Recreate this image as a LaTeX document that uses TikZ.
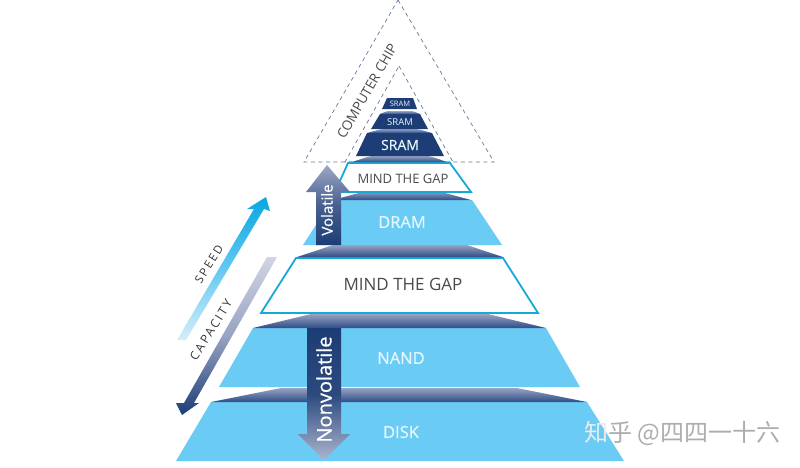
\documentclass[tikz,border=0pt]{standalone}
\usepackage{fontspec}
\setmainfont{Open Sans}
\newfontfamily\cjkwm{Noto Sans CJK SC}
\newfontfamily\heavyfont[FakeBold=0.6]{Open Sans}
\definecolor{tierblue}{HTML}{6ACBF5}
\definecolor{navy}{HTML}{1C3D75}
\definecolor{bandtop}{HTML}{98A2C2}
\definecolor{bandbot}{HTML}{2F4D86}
\definecolor{gapcyan}{HTML}{14A9D6}
\definecolor{gaptext}{HTML}{4A4A4A}
\definecolor{tiertext}{HTML}{E6F6FD}
\definecolor{dashc}{HTML}{66779A}
\definecolor{speedtop}{HTML}{08A6E0}
\definecolor{speedmid}{HTML}{62C9F2}
\definecolor{speedbot}{HTML}{D6EDF8}
\tikzset{
  tier/.style={fill=tierblue},
  gaptier/.style={draw=gapcyan,line width=1.8pt,fill=white,line join=miter},
  sramtier/.style={fill=navy},
  band/.style={top color=bandtop,bottom color=bandbot},
  chipdash/.style={draw=dashc,line width=0.7pt,dash pattern=on 4pt off 3.5pt},
  tierlabel/.style={text=tiertext,inner sep=0pt},
  gaplabel/.style={text=gaptext,inner sep=0pt},
  sidelabel/.style={text=gaptext!70!black,inner sep=0pt,rotate=58},
  arrowlabel/.style={text=white,inner sep=0pt,rotate=90}
}
% domed band
\newcommand{\bandshape}[6]{% xl xr yb xtl xtr yt
  \shade[band] (#1,#3) .. controls ({#1+0.5*(#4-#1)},{#3-0.55*(#3-#6)}) and ({#1+0.8*(#4-#1)},{#6+0.1*(#3-#6)}) .. (#4,#6)
    -- (#5,#6) .. controls ({#2+0.8*(#5-#2)},{#6+0.1*(#3-#6)}) and ({#2+0.5*(#5-#2)},{#3-0.55*(#3-#6)}) .. (#2,#3) -- cycle;}
% straight-sided band
\newcommand{\wedgeshape}[6]{%
  \shade[band] (#1,#3) -- (#4,#6) -- (#5,#6) -- (#2,#3) -- cycle;}
\begin{document}
\begin{tikzpicture}[x=1pt,y=-1pt]
\useasboundingbox (0,0) rectangle (800,467);
% chip triangles
\draw[chipdash] (398,0) -- (494,162) -- (304,162) -- cycle;
\draw[chipdash] (399,66) -- (453,162) -- (345,162) -- cycle;
% tiers
\fill[tier] (176,461) -- (624,461) -- (587,402) -- (211,402) -- cycle;
\wedgeshape{211}{587}{402}{281}{517}{388}
\fill[tier] (219,387) -- (580,387) -- (546,328) -- (253,328) -- cycle;
\wedgeshape{253}{546}{328}{311}{488}{314}
\draw[gaptier] (261,313) -- (538,313) -- (503,258) -- (296,258) -- cycle;
\wedgeshape{297}{503}{257}{333}{467}{245}
\fill[tier] (303,245) -- (502,245) -- (472,200) -- (332,200) -- cycle;
\wedgeshape{333}{471}{200}{366}{438}{191}
\draw[gaptier] (335,192) -- (471,192) -- (450,163) -- (348,163) -- cycle;
\bandshape{352}{447}{162}{372}{428}{156}
\fill[sramtier] (356,156) -- (444,156) -- (432,133) -- (367,133) -- cycle;
\bandshape{367}{432}{133}{383}{416}{129}
\fill[sramtier] (371,129) -- (428,129) -- (420,114) -- (380,114) -- cycle;
\bandshape{380}{420}{114}{388}{412}{111}
\fill[sramtier] (382,109) -- (417,109) -- (413,98) -- (387,98) -- cycle;
% vertical arrows
\shade[top color=bandtop!95!white,bottom color=navy,middle color=navy!65!bandtop] (316,245) -- (341,245) -- (341,192) -- (350,192) -- (327,165) -- (306,192) -- (316,192) -- cycle;
\shade[top color=navy,bottom color=bandtop!80!white,middle color=navy!88!bandtop] (307,328) -- (341,328) -- (341,434) -- (350,434) -- (324,460) -- (298,434) -- (307,434) -- cycle;
% diagonal arrows
\shade[top color=speedtop,bottom color=speedbot,middle color=speedmid] (177,340) -- (186,340) -- (264,209) -- (270,211) -- (266,197) -- (247,209) -- (254,209) -- cycle;
\shade[top color=bandtop!45!white,bottom color=navy,middle color=bandtop] (267,257) -- (277,257) -- (194,403) -- (199,403) -- (182,415) -- (176,403) -- (184,403) -- cycle;
% labels
\node[tierlabel,font=\heavyfont\fontsize{16.5}{18}\selectfont] (disk) at (401,432) {DISK};
\node[tierlabel,font=\heavyfont\fontsize{16.5}{18}\selectfont] (nand) at (401,358) {NAND};
\node[gaplabel,font=\fontsize{17}{20}\selectfont] (gapa) at (403,284) {MIND THE GAP};
\node[tierlabel,font=\heavyfont\fontsize{16.5}{18}\selectfont] (dram) at (402,222) {DRAM};
\node[gaplabel,font=\fontsize{13}{15}\selectfont] (gapb) at (403,179) {MIND THE GAP};
\node[tierlabel,font=\heavyfont\fontsize{14}{16}\selectfont] (srama) at (400,145) {SRAM};
\node[tierlabel,font=\fontsize{9.5}{11}\selectfont] (sramb) at (400,122) {SRAM};
\node[tierlabel,font=\fontsize{7.5}{9}\selectfont] (sramc) at (400,104) {SRAM};
\node[gaplabel,rotate=60,font=\fontsize{13.5}{15}\selectfont] (chip) at (367,91) {COMPUTER CHIP};
\node[arrowlabel,font=\heavyfont\fontsize{15}{17}\selectfont] (volatile) at (327,210) {Volatile};
\node[arrowlabel,font=\heavyfont\fontsize{20}{23}\selectfont] (nonvol) at (324,389.5) {Nonvolatile};
\node[sidelabel,font=\fontsize{11.5}{13}\selectfont\addfontfeature{LetterSpace=18}] (speed) at (209,264) {SPEED};
\node[sidelabel,font=\fontsize{12}{14}\selectfont\addfontfeature{LetterSpace=18}] (capacity) at (211,330) {CAPACITY};
\node[inner sep=0pt,text=black!32,font=\cjkwm\fontsize{24}{26}\selectfont,anchor=west] (mark) at (584,433) {{\color{white!85!gray}知}乎 @四四一十六};
\end{tikzpicture}
\end{document}
